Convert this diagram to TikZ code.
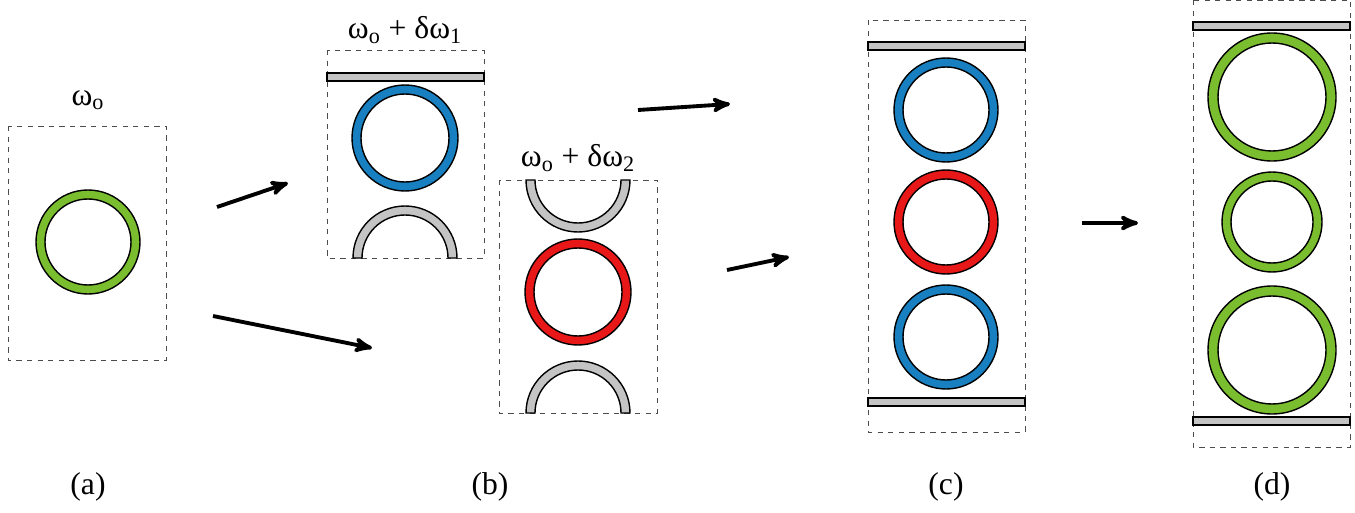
\documentclass[tikz,border=0pt]{standalone}
\usepackage{fontspec}
\setmainfont{Liberation Serif}
\usetikzlibrary{arrows,positioning}
\definecolor{ringgreen}{RGB}{122,190,48}
\definecolor{ringblue}{RGB}{24,128,192}
\definecolor{ringred}{RGB}{232,24,24}
\definecolor{ringgray}{RGB}{196,196,196}
\tikzset
{
    cell/.style = {draw=black!70, dashed, very thin},
    bar/.style = {draw=black, fill=ringgray, thick},
    ring/.style = {draw=black, thick, even odd rule},
    stagearrow/.style = {->, >=stealth', line width=2.2pt},
    lbl/.style = {font=\fontsize{18}{20}\selectfont},
    freq/.style = {font=\fontsize{18}{20}\selectfont}
}
\newcommand{\ringat}[4]{\path[ring, fill=#4] (#1) circle (#2) (#1) circle (#3);}
\begin{document}
\begin{tikzpicture}[x=0.02cm, y=-0.02cm]
    \useasboundingbox (0,0) rectangle (1355,513);
    % (a)
    \draw[cell] (8,126) rectangle (166,360);
    \node [freq] (wa) at (88,100) {ω$_\mathrm{o}$};
    \coordinate (ca) at (88,242);
    \ringat{ca}{52*0.02cm}{43*0.02cm}{ringgreen}
    % (b) upper
    \draw[cell] (327,50) rectangle (484,258);
    \node [freq] (wb1) at (405,30) {ω$_\mathrm{o}$ + δω$_\mathrm{1}$};
    \draw[bar] (327,73) rectangle (484,81);
    \coordinate (cb1) at (405,138);
    \ringat{cb1}{53*0.02cm}{44*0.02cm}{ringblue}
    \coordinate (hb1) at (405,258);
    \draw[ring, fill=ringgray] ([xshift=-52*0.02cm]hb1) arc (180:0:52*0.02cm) -- ([xshift=43*0.02cm]hb1) arc (0:180:43*0.02cm) -- cycle;
    % (b) lower
    \draw[cell] (499,180) rectangle (657,413);
    \node [freq] (wb2) at (578,158) {ω$_\mathrm{o}$ + δω$_\mathrm{2}$};
    \coordinate (hb2) at (578,180);
    \draw[ring, fill=ringgray] ([xshift=-52*0.02cm]hb2) arc (180:360:52*0.02cm) -- ([xshift=43*0.02cm]hb2) arc (360:180:43*0.02cm) -- cycle;
    \coordinate (cb2) at (578,292);
    \ringat{cb2}{53*0.02cm}{44*0.02cm}{ringred}
    \coordinate (hb3) at (578,413);
    \draw[ring, fill=ringgray] ([xshift=-52*0.02cm]hb3) arc (180:0:52*0.02cm) -- ([xshift=43*0.02cm]hb3) arc (0:180:43*0.02cm) -- cycle;
    % (c)
    \draw[cell] (868,20) rectangle (1025,432);
    \draw[bar] (868,42) rectangle (1025,50);
    \draw[bar] (868,398) rectangle (1025,406);
    \coordinate (cc1) at (946,110);
    \coordinate (cc2) at (946,222);
    \coordinate (cc3) at (946,337);
    \ringat{cc1}{52*0.02cm}{43*0.02cm}{ringblue}
    \ringat{cc2}{52*0.02cm}{43*0.02cm}{ringred}
    \ringat{cc3}{52*0.02cm}{43*0.02cm}{ringblue}
    % (d)
    \draw[cell] (1193,0) rectangle (1350,447);
    \draw[bar] (1193,22) rectangle (1350,30);
    \draw[bar] (1193,417) rectangle (1350,425);
    \coordinate (cd1) at (1272,97);
    \coordinate (cd2) at (1272,222);
    \coordinate (cd3) at (1272,350);
    \ringat{cd1}{64*0.02cm}{54*0.02cm}{ringgreen}
    \ringat{cd2}{50*0.02cm}{41*0.02cm}{ringgreen}
    \ringat{cd3}{64*0.02cm}{54*0.02cm}{ringgreen}
    % arrows
    \coordinate (a1s) at (217,207); \coordinate (a1e) at (288,183);
    \coordinate (a2s) at (213,316); \coordinate (a2e) at (372,348);
    \coordinate (a3s) at (638,110); \coordinate (a3e) at (730,104);
    \coordinate (a4s) at (727,270); \coordinate (a4e) at (789,257);
    \coordinate (a5s) at (1082,223); \coordinate (a5e) at (1138,223);
    \draw[stagearrow] (a1s) -- (a1e);
    \draw[stagearrow] (a2s) -- (a2e);
    \draw[stagearrow] (a3s) -- (a3e);
    \draw[stagearrow] (a4s) -- (a4e);
    \draw[stagearrow] (a5s) -- (a5e);
    % labels
    \node [lbl] (la) at (88,487) {(a)};
    \node [lbl] (lb) at (490,487) {(b)};
    \node [lbl] (lc) at (946,487) {(c)};
    \node [lbl] (ld) at (1272,487) {(d)};
\end{tikzpicture}
\end{document}
